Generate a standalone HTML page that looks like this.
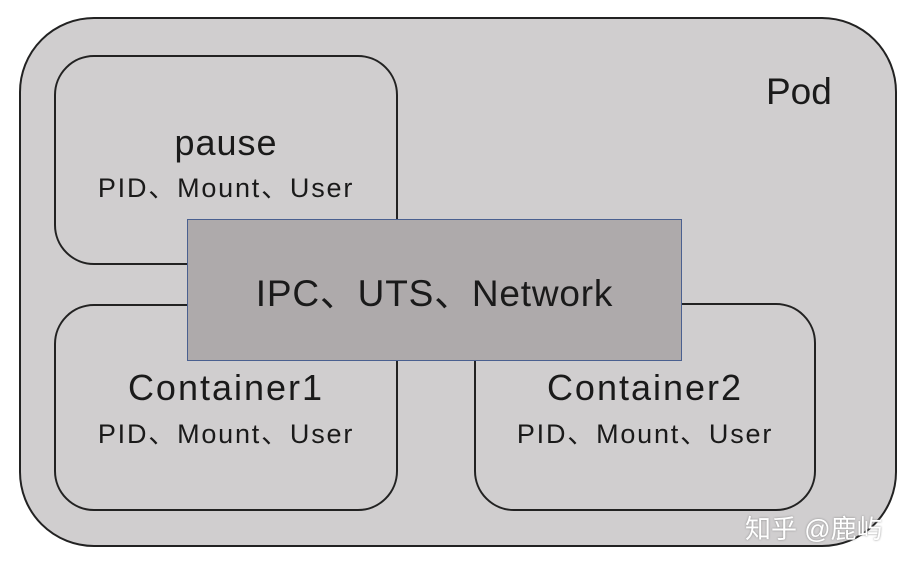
<!DOCTYPE html>
<html><head><style>
body{margin:0;width:911px;height:563px;background:#fff;position:relative;overflow:hidden;font-family:"Liberation Sans","Noto Sans CJK SC",sans-serif;color:#1a1a1a}
.b{position:absolute;box-sizing:border-box;border:2px solid #222;background:#d0cecf}
.t{position:absolute;text-align:center;white-space:nowrap}
.s{font-size:27px;letter-spacing:1.8px}
</style></head><body>
<div class="b" style="left:19px;top:17px;width:878px;height:530px;border-radius:75px"></div>
<div class="b" style="left:54px;top:55px;width:344px;height:210px;border-radius:40px"></div>
<div class="b" style="left:54px;top:304px;width:344px;height:207px;border-radius:40px"></div>
<div class="b" style="left:474px;top:303px;width:342px;height:208px;border-radius:40px"></div>
<div class="b" style="left:187px;top:219px;width:495px;height:142px;border:1.5px solid #4a6090;background:#aeaaab"></div>
<div class="t" style="left:766px;top:71px;font-size:37px">Pod</div>
<div class="t" style="left:54px;width:344px;top:122px;font-size:36px;letter-spacing:1px">pause</div>
<div class="t s" style="left:54px;width:344px;top:166px">PID、Mount、User</div>
<div class="t" style="left:187px;width:495px;top:263px;font-size:37px;letter-spacing:0.8px">IPC、UTS、Network</div>
<div class="t" style="left:54px;width:344px;top:367px;font-size:36px;letter-spacing:2px">Container1</div>
<div class="t s" style="left:54px;width:344px;top:412px">PID、Mount、User</div>
<div class="t" style="left:474px;width:342px;top:367px;font-size:36px;letter-spacing:2px">Container2</div>
<div class="t s" style="left:474px;width:342px;top:412px">PID、Mount、User</div>
<div class="t" style="left:745px;top:509px;font-size:26px;color:#fff;text-shadow:0 0 2px #888">知乎 @鹿屿</div>
</body></html>
